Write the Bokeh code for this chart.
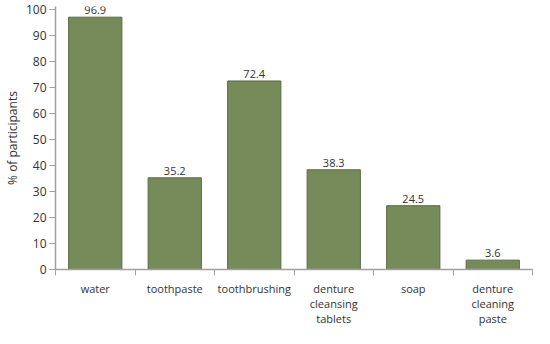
from bokeh.plotting import figure
from bokeh.models import ColumnDataSource, FixedTicker, Range1d
from bokeh.core.properties import value
from bokeh.embed import file_html
from bokeh.resources import INLINE

categories = ["water", "toothpaste", "toothbrushing", "denture\ncleansing\ntablets", "soap", "denture\ncleaning\npaste"]
values = [96.9, 35.2, 72.4, 38.3, 24.5, 3.6]
y_ticks = [0, 10, 20, 30, 40, 50, 60, 70, 80, 90, 100]

n = len(categories)
centers = [i + 0.5 for i in range(n)]
src = ColumnDataSource(dict(x=centers, top=values, lab=[f"{v:.1f}" for v in values]))

p = figure(width=534, height=328, output_backend="svg", toolbar_location=None,
           x_range=Range1d(0, n), y_range=Range1d(0, 101),
           min_border_left=40, min_border_right=2, min_border_top=6, min_border_bottom=40)
p.outline_line_color = None
p.grid.visible = False

p.vbar(x="x", top="top", width=0.67, source=src, fill_color="#778b5a", line_color="#5a6b44", line_width=1)
p.text(x="x", y="top", text="lab", source=src, text_align="center", text_baseline="bottom",
       y_offset=-3, text_font_size="11px", text_color="#333333", text_font=value("Open Sans"))

xa = p.xaxis[0]
xa.ticker = FixedTicker(ticks=centers, minor_ticks=list(range(n + 1)))
xa.major_label_overrides = {c: lab for c, lab in zip(centers, categories)}
xa.major_tick_out = 0
xa.major_tick_in = 0
xa.minor_tick_out = 6
xa.minor_tick_in = 0
xa.minor_tick_line_color = "#a0a0a0"
xa.axis_line_color = "#a0a0a0"
xa.axis_line_width = 1.5
xa.major_label_standoff = 5
xa.major_label_text_font = "Open Sans"
xa.major_label_text_font_size = "11px"
xa.major_label_text_line_height = 1.0
xa.major_label_text_color = "#333333"

ya = p.yaxis[0]
ya.ticker = FixedTicker(ticks=y_ticks)
ya.minor_tick_line_color = None
ya.major_tick_out = 6
ya.major_tick_in = 0
ya.major_tick_line_color = "#a0a0a0"
ya.axis_line_color = "#a0a0a0"
ya.axis_line_width = 1.5
ya.major_label_standoff = 3
ya.major_label_text_font = "Open Sans"
ya.major_label_text_font_size = "12px"
ya.major_label_text_color = "#333333"
ya.axis_label = "% of participants"
ya.axis_label_text_font = "Open Sans"
ya.axis_label_text_font_style = "normal"
ya.axis_label_text_font_size = "12px"
ya.axis_label_text_color = "#333333"
ya.axis_label_standoff = 2

open("out.html", "w").write(file_html(p, INLINE))
